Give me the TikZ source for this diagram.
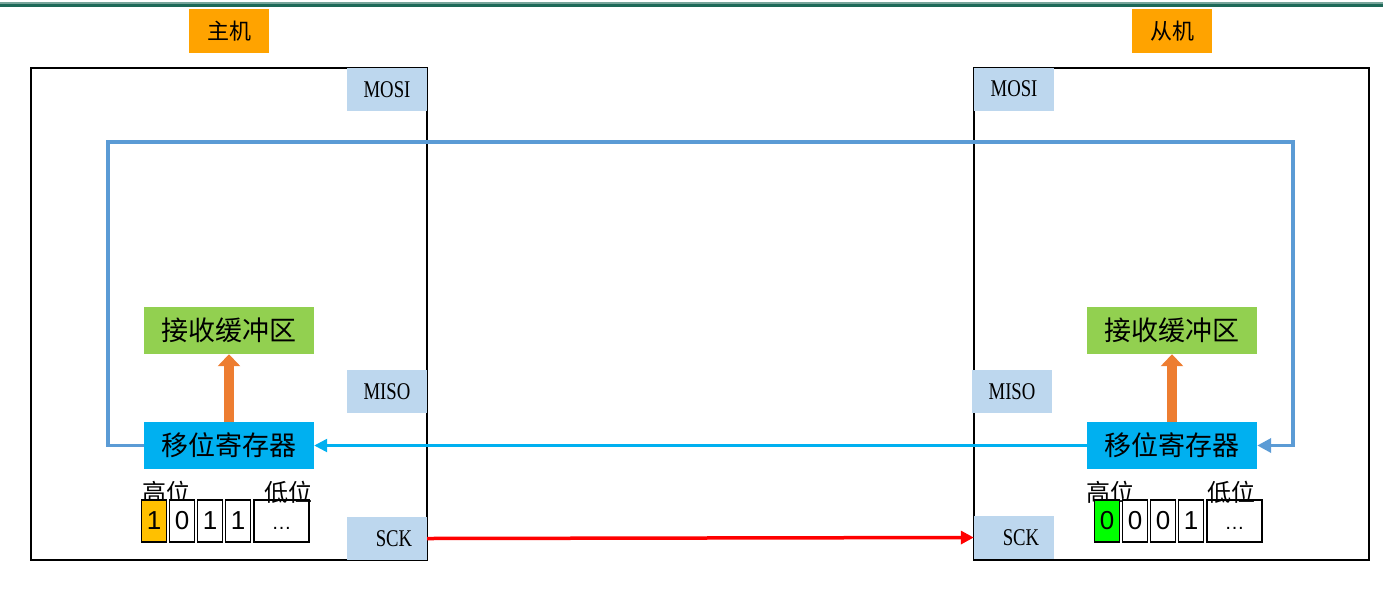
\documentclass[tikz,border=0pt]{standalone}
\usepackage{fontspec}
\setmainfont{Liberation Sans}
\newfontfamily\cjk{Noto Sans CJK SC}
\newfontfamily\pinfont[FakeStretch=0.78]{Liberation Serif}
\usetikzlibrary{arrows.meta}
\definecolor{tagorange}{RGB}{255,163,0}
\definecolor{pinblue}{RGB}{189,215,238}
\definecolor{shiftcyan}{RGB}{0,176,240}
\definecolor{bufgreen}{RGB}{146,208,80}
\definecolor{mosiblue}{RGB}{91,155,213}
\definecolor{feedorange}{RGB}{237,125,49}
\definecolor{highbit}{RGB}{255,192,0}
\definecolor{rulelight}{RGB}{120,165,155}
\definecolor{ruledark}{RGB}{30,105,88}
\tikzset{>=Triangle,
    hostframe/.style={draw=black,line width=2pt},
    roletag/.style={fill=tagorange,minimum width=80pt,minimum height=44pt,
        inner sep=0pt,font=\cjk\fontsize{22}{24}\selectfont},
    pinbox/.style={fill=pinblue,minimum width=80pt,minimum height=43pt,
        inner sep=0pt,font=\pinfont\fontsize{24}{26}\selectfont},
    unitbox/.style={minimum width=170pt,minimum height=47pt,inner sep=0pt,
        font=\cjk\fontsize{27}{30}\selectfont},
    bitcell/.style={draw=black,line width=1.6pt,minimum width=25pt,
        minimum height=42pt,inner sep=0pt,font=\fontsize{26}{28}\selectfont},
    bitlabel/.style={inner sep=0pt,font=\cjk\fontsize{24}{26}\selectfont},
    mosiline/.style={draw=mosiblue,line width=3.5pt,
        -{Triangle[length=14pt,width=14pt]}},
    misoline/.style={draw=shiftcyan,line width=2.5pt,
        -{Triangle[length=13pt,width=13pt]}},
    sckline/.style={draw=red,line width=3.5pt,
        -{Triangle[length=13pt,width=13pt]}},
    feedline/.style={draw=feedorange,line width=10pt,
        -{Triangle[length=12pt,width=22pt]}}}
\begin{document}
\begin{tikzpicture}[x=1pt,y=-1pt]
    \useasboundingbox (0,0) rectangle (1383,606);
    \draw[rulelight,line width=1.5pt] (0,3) -- (1383,3);
    \draw[ruledark,line width=3.5pt] (0,5.5) -- (1383,5.5);
    \draw[hostframe] (31,68) rectangle (427,560);
    \draw[hostframe] (974,68) rectangle (1369,560);
    \node[roletag] (mtag) at (229,31) {主机};
    \node[roletag] (stag) at (1172,31) {从机};
    \node[pinbox] (mmosi) at (387,89.5) {MOSI};
    \node[pinbox] (mmiso) at (387,391.5) {MISO};
    \node[pinbox] (msck) at (387,538.5) {\hspace{14pt}SCK};
    \node[pinbox] (smosi) at (1014,89) {MOSI};
    \node[pinbox] (smiso) at (1012,391.5) {MISO};
    \node[pinbox] (ssck) at (1014,537.5) {\hspace{14pt}SCK};
    \node[unitbox,fill=bufgreen] (mbuf) at (229,330.5) {接收缓冲区};
    \node[unitbox,fill=shiftcyan] (mshift) at (229,445.5) {移位寄存器};
    \node[unitbox,fill=bufgreen] (sbuf) at (1172,330.5) {接收缓冲区};
    \node[unitbox,fill=shiftcyan] (sshift) at (1172,445.5) {移位寄存器};
    \node[bitlabel,anchor=south west] (mhigh) at (142,504) {高位};
    \node[bitlabel,anchor=south east] (mlow) at (313,504) {低位};
    \node[bitlabel,anchor=south west] (shigh) at (1086,504) {高位};
    \node[bitlabel,anchor=south east] (slow) at (1256,504) {低位};
    \foreach \b/\c [count=\k] in {1/highbit,0/white,1/white,1/white} {
        \node[bitcell,fill=\c] (mb\k) at ({154+(\k-1)*28},521) {\b};
      }
    \node[bitcell,minimum width=55pt] (mbx) at (281.5,521) {\vphantom{1}\fontsize{20}{22}\selectfont\ldots};
    \foreach \b/\c [count=\k] in {0/green,0/white,0/white,1/white} {
        \node[bitcell,fill=\c] (sb\k) at ({1107+(\k-1)*28},521) {\b};
      }
    \node[bitcell,minimum width=55pt] (sbx) at (1234.5,521) {\vphantom{1}\fontsize{20}{22}\selectfont\ldots};
    \coordinate (mturn) at (108,142);
    \coordinate (sturn) at (1293,142);
    \draw[mosiline] (mshift.west) -| (mturn) -- (sturn) |- (sshift.east);
    \draw[misoline] (sshift.west) -- (mshift.east);
    \draw[sckline] (msck.east) -- (ssck.west);
    \draw[feedline] (mshift.north) -- (mbuf.south);
    \draw[feedline] (sshift.north) -- (sbuf.south);
  \end{tikzpicture}
\end{document}
